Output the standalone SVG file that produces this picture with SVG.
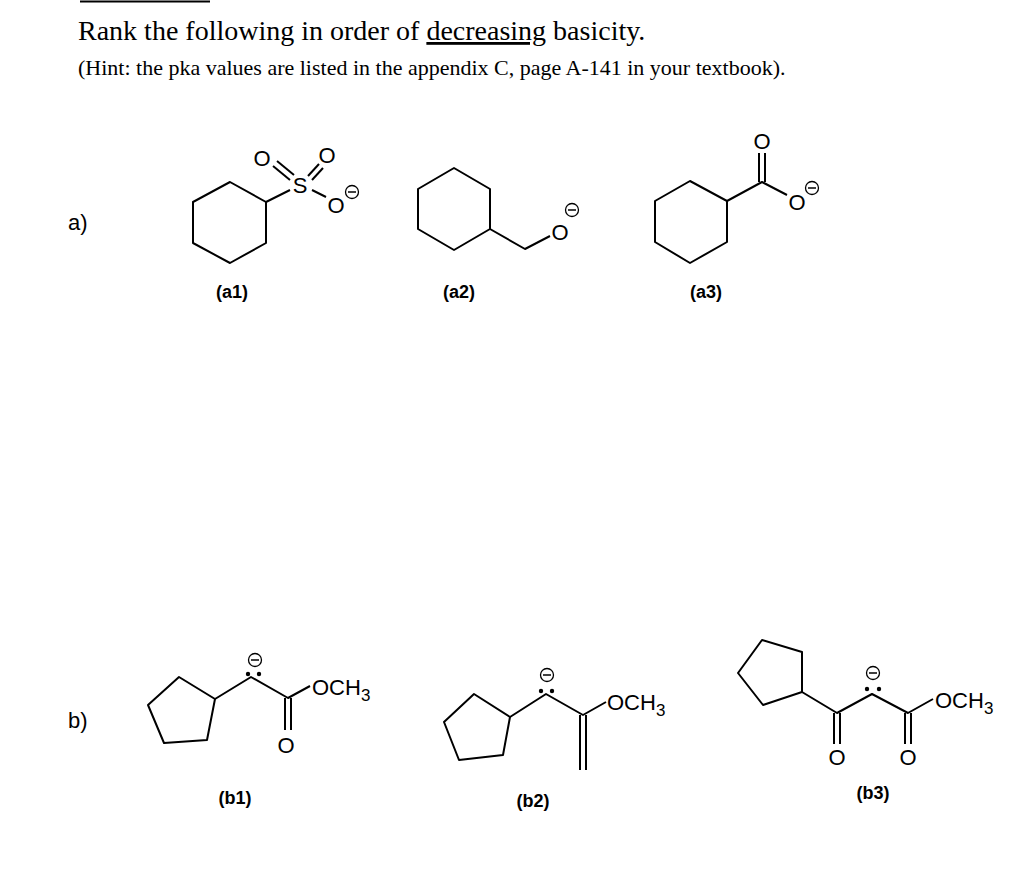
<svg xmlns="http://www.w3.org/2000/svg" width="1029" height="891" viewBox="0 0 1029 891">
<style>
.b{fill:none;stroke:#000;stroke-width:2;stroke-linejoin:round}
.t{font-family:"Liberation Serif",serif;fill:#000}
.at{font-family:"Liberation Sans",Arial,sans-serif;font-size:22px;fill:#000;text-anchor:middle}
.och{font-family:"Liberation Sans",Arial,sans-serif;font-size:22px;fill:#000}
.lb{font-family:"Liberation Sans",Arial,sans-serif;font-size:18px;font-weight:bold;fill:#000;text-anchor:middle}
.ch{fill:#fff;stroke:#000;stroke-width:1.3}
</style>
<defs>
<g id="neg"><circle class="ch" r="6.5"/><line x1="-4" y1="0" x2="4" y2="0" stroke="#000" stroke-width="1.5"/></g>
</defs>
<rect width="1029" height="891" fill="#fff"/>
<line x1="80" y1="1.5" x2="210" y2="1.5" stroke="#000" stroke-width="2"/>
<text class="t" x="78" y="40" font-size="28">Rank the following in order of <tspan text-decoration="underline">decreasing</tspan> basicity.</text>
<text class="t" x="78" y="75" font-size="22">(Hint: the pka values are listed in the appendix C, page A-141 in your textbook).</text>
<text class="och" x="68" y="230">a)</text>
<text class="och" x="68" y="728">b)</text>

<g id="a1">
<polygon class="b" points="230,182 266,202 266,243 230,263 193,243 193,202"/>
<line class="b" x1="266" y1="202" x2="290" y2="190"/>
<text class="at" x="300" y="193">S</text>
<line class="b" x1="273" y1="166" x2="290" y2="180"/><line class="b" x1="277" y1="161" x2="294" y2="175"/>
<line class="b" x1="308" y1="176" x2="319" y2="164"/><line class="b" x1="312" y1="180" x2="323" y2="168"/>
<text class="at" x="262" y="166">O</text>
<text class="at" x="327" y="163">O</text>
<line class="b" x1="312" y1="190" x2="326" y2="197"/>
<text class="at" x="336" y="213">O</text>
<use href="#neg" x="352" y="192"/>
<text class="lb" x="232" y="298">(a1)</text>
</g>

<g id="a2">
<polygon class="b" points="454,168 490,189 490,229 454,250 418,229 418,189"/>
<polyline class="b" points="490,229 525,249 550,236"/>
<text class="at" x="560" y="240">O</text>
<use href="#neg" x="572" y="210"/>
<text class="lb" x="459" y="298">(a2)</text>
</g>

<g id="a3">
<polygon class="b" points="690,181 727,201 727,242 690,263 655,242 655,201"/>
<polyline class="b" points="727,201 762,182 787,195"/>
<line class="b" x1="759" y1="182" x2="759" y2="153"/><line class="b" x1="765" y1="182" x2="765" y2="153"/>
<text class="at" x="762" y="149">O</text>
<text class="at" x="797" y="210">O</text>
<use href="#neg" x="812" y="188"/>
<text class="lb" x="706" y="298">(a3)</text>
</g>

<g id="b1">
<polygon class="b" points="179,677 215,699 207,740 164,743 148,705"/>
<polyline class="b" points="215,699 251,677 288,698 310,686"/>
<line class="b" x1="285" y1="698" x2="285" y2="730"/><line class="b" x1="291" y1="698" x2="291" y2="730"/>
<text class="at" x="286" y="753">O</text>
<text class="och" x="312" y="695">OCH<tspan font-size="17" dy="6">3</tspan></text>
<circle cx="248" cy="674" r="2.2"/><circle cx="259" cy="674" r="2.2"/>
<use href="#neg" x="255" y="660"/>
<text class="lb" x="235" y="804">(b1)</text>
</g>

<g id="b2">
<polygon class="b" points="474,694 510,717 503,755 459,760 444,722"/>
<polyline class="b" points="510,717 546,694 583,715 606,702"/>
<line class="b" x1="580" y1="715" x2="580" y2="770"/><line class="b" x1="586" y1="715" x2="586" y2="770"/>
<text class="och" x="607" y="710">OCH<tspan font-size="17" dy="6">3</tspan></text>
<circle cx="541" cy="691" r="2.2"/><circle cx="552" cy="691" r="2.2"/>
<use href="#neg" x="547" y="675"/>
<text class="lb" x="533" y="807">(b2)</text>
</g>

<g id="b3">
<polygon class="b" points="762,640 802,652 802,692 763,705 738,673"/>
<polyline class="b" points="802,692 837,713 872,694 908,713 933,699"/>
<line class="b" x1="834" y1="713" x2="834" y2="744"/><line class="b" x1="840" y1="713" x2="840" y2="744"/>
<line class="b" x1="905" y1="713" x2="905" y2="744"/><line class="b" x1="911" y1="713" x2="911" y2="744"/>
<text class="at" x="837" y="765">O</text>
<text class="at" x="908" y="765">O</text>
<text class="och" x="935" y="708">OCH<tspan font-size="17" dy="6">3</tspan></text>
<circle cx="867" cy="689" r="2.2"/><circle cx="879" cy="689" r="2.2"/>
<use href="#neg" x="873" y="673"/>
<text class="lb" x="873" y="799">(b3)</text>
</g>
</svg>
